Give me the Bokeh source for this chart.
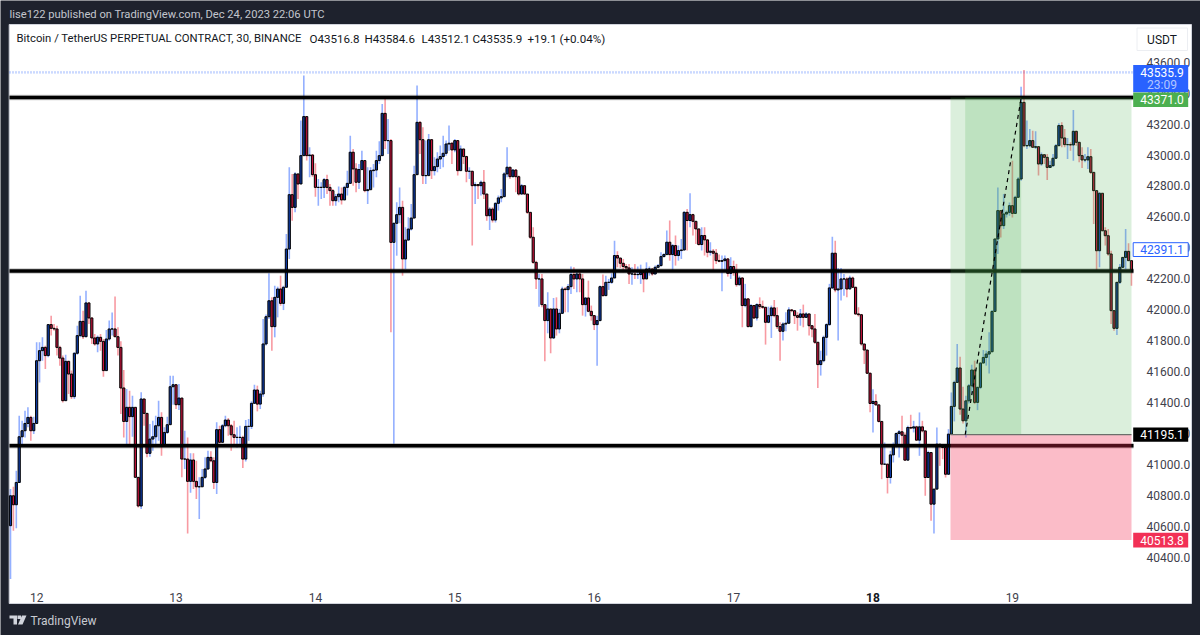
from bokeh.plotting import figure
from bokeh.models import ColumnDataSource, LinearAxis, FixedTicker, Label
from bokeh.embed import file_html
from bokeh.resources import INLINE

first_open = 40607
closes = [
40800,40742,40886,41181,41220,41267,41306,41220,41267,41672,41737,41758,41705,41905,41881,41877,41758,41689,41414,41668,
41586,41440,41720,41834,41926,41827,42045,41948,41819,41780,41823,41797,41608,41812,41877,41877,41827,41758,41496,41280,
41371,41311,41371,40919,40734,41425,41332,41074,41166,41181,41252,41306,41130,41209,41259,41504,41517,41388,41431,41037,
41037,40893,41031,40893,40858,40858,40919,40973,41048,41026,40886,41227,41145,41252,41289,41252,41194,41177,41177,41177,
41037,41248,41248,41397,41483,41392,41457,41780,41956,42059,41892,42081,42135,42042,42146,42393,42744,42662,42878,42813,
42996,43248,42996,43000,42873,42791,42791,42791,42841,42791,42770,42705,42731,42748,42710,42791,42817,43018,42910,42824,
42906,42964,42770,42776,42899,42903,42964,42996,43269,43093,43093,42436,42559,42615,42662,42329,42451,42522,42593,42873,
43211,43099,42867,42867,43099,42899,42925,42974,42990,43011,43071,43076,43033,43093,42899,43039,42990,42895,42895,42802,
42809,42802,42824,42748,42608,42651,42580,42688,42723,42731,42878,42921,42860,42903,42860,42748,42802,42748,42630,42469,
42307,42200,42200,42034,41931,42006,41819,42006,41877,41978,42135,42131,42150,42228,42200,42232,42200,42034,42077,41991,
41963,41905,41931,42150,42092,42178,42178,42206,42351,42335,42301,42280,42271,42232,42232,42228,42228,42243,42200,42264,
42264,42232,42275,42286,42344,42357,42437,42357,42415,42351,42383,42387,42630,42577,42615,42572,42523,42422,42480,42452,
42372,42379,42366,42318,42314,42318,42329,42236,42280,42243,42163,42206,42028,42071,41892,42028,41948,42034,42021,42017,
41920,41963,42013,41963,41892,41862,41909,41914,42000,41995,41963,41952,41974,41952,41974,41898,41877,41791,41647,41672,
41823,41905,42142,42366,42129,42135,42200,42200,42135,42206,42146,41974,41969,41780,41741,41591,41396,41409,41387,41280,
41004,41004,40918,41064,41129,41202,41213,41191,41030,41241,41237,41245,41159,41245,41219,40918,41079,40746,40843,41133,
41122,41112,40939,41198,41377,41532,41625,41360,41284,41413,41510,41612,41403,41500,41657,41693,41715,41730,41990,42458,
42641,42544,42619,42630,42673,42623,42727,42845,43340,43060,43060,43093,43050,43054,42942,43002,42985,42920,42931,42979,
43060,43190,43110,43067,43067,43065,43153,43082,42996,42968,42968,42989,42888,42770,42382,42753,42511,42479,42361,41995,
41881,42178,42275,42339,42378,42318,42253,
]
highs = [
40843,40858,40962,41317,41285,41349,41371,41317,41311,41791,41791,41823,41769,41909,41963,41909,41898,41769,41705,41711,
41672,41608,41726,41898,42092,41995,42124,42049,41952,41845,41834,41845,41812,41870,41931,41984,42086,41888,41797,41612,
41489,41478,41446,41371,40919,41468,41418,41332,41263,41285,41317,41414,41339,41242,41311,41575,41575,41522,41522,41431,
41220,41177,41074,41074,41026,40919,40973,41048,41091,41087,41048,41274,41252,41263,41317,41302,41263,41285,41242,41252,
41188,41289,41295,41410,41517,41511,41478,41941,41970,42236,42081,42156,42150,42221,42156,42490,42921,42878,42888,42878,
43222,43513,43244,43050,43007,42946,42845,42824,42852,42873,42813,42781,42748,42796,42791,42802,42899,43125,43039,42946,
42942,43028,42964,42921,42921,42942,43028,43089,43330,43362,43233,43104,42565,42695,42791,42705,42533,42598,42684,42931,
43448,43218,43179,43093,43136,43104,42985,43018,43061,43125,43093,43190,43082,43104,43093,43061,43039,42996,42921,42899,
42824,42813,42835,42903,42748,42662,42662,42695,42738,42781,42888,43050,42921,42910,42910,42867,42813,42802,42748,42630,
42533,42318,42232,42232,42017,42114,42006,42077,42081,42006,42150,42146,42168,42280,42275,42254,42254,42232,42081,42189,
42028,41963,41963,42157,42228,42221,42200,42236,42447,42379,42335,42329,42297,42297,42275,42297,42280,42292,42254,42307,
42280,42271,42286,42297,42372,42366,42512,42577,42426,42480,42415,42458,42637,42652,42753,42620,42566,42523,42534,42534,
42458,42437,42394,42394,42357,42351,42351,42335,42340,42318,42297,42221,42211,42168,42077,42038,42028,42043,42081,42060,
42017,42021,42028,42064,42017,41920,41920,41985,42017,42006,41995,41985,42006,42034,41985,41974,41898,41974,41791,41737,
41834,41914,42168,42473,42447,42271,42271,42232,42211,42221,42215,42150,42017,41974,41780,41741,41596,41488,41456,41387,
41280,41144,41008,41090,41144,41209,41224,41316,41209,41252,41323,41284,41252,41338,41284,41215,41090,41079,40843,41241,
41133,41133,41112,41230,41467,41543,41780,41698,41504,41446,41521,41646,41672,41504,41661,41741,41737,41855,41999,42458,
42791,42641,42748,42641,42694,42963,42737,42856,43441,43549,43222,43168,43157,43153,43054,43017,43002,43007,42963,43007,
43071,43205,43211,43168,43110,43082,43291,43157,43082,43050,43007,43050,43039,42888,42770,42759,42753,42533,42522,42382,
41995,42178,42296,42339,42522,42430,42318,
]
lows = [
40262,40574,40591,41091,41134,41177,41242,41156,41199,41263,41532,41672,41618,41694,41834,41866,41705,41640,41403,41414,
41457,41425,41425,41711,41823,41812,41823,41909,41780,41769,41726,41737,41569,41608,41801,41834,41823,41705,41328,41177,
41134,41134,41181,40919,40725,40714,41252,41048,41052,41091,41123,41156,41059,41123,41199,41259,41388,41360,41354,40919,
40973,40557,40820,40843,40779,40650,40858,40908,40966,41016,40843,40811,41138,41145,41242,41188,41091,41123,41112,41134,
40979,41022,41156,41231,41392,41345,41360,41440,41770,41941,41736,41823,41952,42027,41999,42146,42329,42576,42630,42716,
42813,42996,42964,42856,42860,42731,42673,42716,42723,42748,42673,42673,42673,42695,42680,42710,42738,42813,42802,42759,
42781,42910,42759,42684,42781,42791,42856,42942,42996,43039,43007,41855,41136,42350,42559,42221,42264,42447,42512,42598,
42873,43007,42813,42813,42899,42845,42867,42888,42910,42921,42996,43028,42942,43018,42867,42899,42942,42824,42845,42415,
42684,42716,42738,42716,42576,42516,42565,42565,42641,42695,42731,42856,42845,42856,42759,42738,42744,42744,42619,42458,
42297,42135,42021,42017,41668,41849,41720,41812,41834,41849,41974,41985,41985,42103,42135,42114,42114,41963,41957,41985,
41931,41870,41640,41926,42086,42092,42129,42168,42206,42275,42271,42243,42254,42168,42163,42200,42200,42168,42114,42206,
42221,42221,42228,42275,42280,42340,42357,42318,42258,42286,42318,42329,42383,42383,42534,42480,42426,42415,42383,42351,
42340,42351,42258,42297,42307,42120,42254,42215,42200,42221,42150,42157,41888,42017,41888,41888,41941,41931,42006,42006,
41776,41914,41819,41952,41877,41672,41802,41862,41909,41985,41909,41866,41898,41888,41948,41834,41823,41780,41496,41576,
41662,41705,41898,42135,42114,41802,42060,42092,42081,42135,42142,41967,41957,41769,41651,41586,41340,41209,41381,41273,
40907,41000,40815,40879,41015,41112,41047,41112,41026,41030,41230,41209,41155,41058,41209,40800,40914,40638,40556,40843,
40993,41036,40918,40935,41198,41280,41532,41323,41267,41177,41396,41452,41392,41353,41489,41655,41640,41590,41726,41990,
42361,42468,42522,42597,42608,42597,42619,42727,42834,43050,43039,43050,43045,43039,42867,42931,42942,42839,42920,42925,
42974,43060,43050,43050,42974,43028,42963,43060,42953,42916,42953,42910,42877,42554,42253,42275,42507,42415,42350,41909,
41866,41838,42167,42275,42264,42318,42156,
]

day_ticks = [9, 57, 105, 153, 201, 249, 297, 345]
day_labels = ["12", "13", "14", "15", "16", "17", "18", "19"]
price_ticks = list(range(40400, 43601, 200))
level_prices = [43371, 42251, 41123]
last_price = 43535.9
position_entry = 41195.1
position_target = 43371.0
position_stop = 40513.8
other_price = 42391.1

# ---- layout helpers: page pixel -> chart scales
PX_PER_BAR = 2.904
def X(px): return (px - 10) / PX_PER_BAR
def Y(py): return 41000 + (464.3 - py) * 6.456

DARK = "#1e222d"
opens = [first_open] + closes[:-1]
up = [c >= o for c, o in zip(closes, opens)]
src = ColumnDataSource(dict(
    x=list(range(len(closes))), o=opens, h=highs, l=lows, c=closes,
    wick=["#2962ff" if u else "#f23645" for u in up],
    fill=["#0c3aa6" if u else "#c3123a" for u in up],
))

# the frame covers the whole page; the white chart pane is a block inside it
p = figure(width=1200, height=635, output_backend="svg", toolbar_location=None,
           x_range=(X(0), X(1200)), y_range=(Y(635), Y(0)),
           x_axis_location=None, y_axis_location=None,
           min_border=0, background_fill_color=DARK, border_fill_color=DARK,
           outline_line_color=None)
p.grid.visible = False

p.quad(left=[X(8.7)], right=[X(1191)], top=[Y(24)], bottom=[Y(603)],
       fill_color="white", line_color="#d1d4dc", line_width=1)

# last price dotted
for py_shift, alpha in ((0, 0.55), (1.4, 0.3)):
    p.line([X(9), X(1133)], [last_price - py_shift * 6.456] * 2, line_color="#2962ff",
           line_alpha=alpha, line_width=1.3, line_dash=[1, 2])

# candles
p.segment("x", "h", "x", "l", source=src, line_color="wick", line_alpha=0.5, line_width=1.6)
p.vbar("x", 0.75, "o", "c", source=src, fill_color="fill", line_color="black", line_width=1.0)

# horizontal levels
for v in level_prices:
    p.line([X(9), X(1133)], [v, v], line_color="#000000", line_alpha=0.22, line_width=5.5)
    p.line([X(9), X(1133)], [v, v], line_color="#000000", line_width=3.4)

# position tool
zl, zr = X(950), X(1131)
p.quad(left=[zl], right=[zr], bottom=[position_entry], top=[position_target],
       fill_color="#4caf50", fill_alpha=0.2, line_color=None)
p.quad(left=[X(964.7)], right=[X(1020.7)], bottom=[position_entry], top=[position_target],
       fill_color="#4caf50", fill_alpha=0.2, line_color=None)
p.quad(left=[zl], right=[zr], bottom=[position_stop], top=[position_entry],
       fill_color="#f23055", fill_alpha=0.32, line_color=None)
p.line([zl, zr], [position_entry, position_entry], line_color="#6b6f6b", line_width=1.4)
p.line([X(964.7), X(1020.7)], [position_entry, position_target], line_color="black",
       line_width=1.2, line_dash=[4, 4])

# axes drawn inside the white pane
FONT = "Roboto"
ax = LinearAxis(ticker=FixedTicker(ticks=price_ticks), fixed_location=X(1133),
                major_label_overrides={t: f"{t:.1f}" for t in price_ticks},
                axis_line_color=None, major_tick_line_color=None, minor_tick_line_color=None,
                major_label_text_font=FONT, major_label_text_font_size="12px",
                major_label_text_color="#3f424c", major_label_standoff=7)
p.add_layout(ax, "right")

plain = [t for t, s in zip(day_ticks, day_labels) if s != "18"]
bold = [t for t, s in zip(day_ticks, day_labels) if s == "18"]
for ticks, weight in ((plain, "normal"), (bold, "bold")):
    xa = LinearAxis(ticker=FixedTicker(ticks=ticks), fixed_location=Y(585),
                    major_label_overrides={t: s for t, s in zip(day_ticks, day_labels)},
                    axis_line_color=None, major_tick_line_color=None, minor_tick_line_color=None,
                    major_label_text_font=FONT, major_label_text_font_size="12px",
                    major_label_text_font_style=weight,
                    major_label_text_color="#131722" if weight == "bold" else "#3f424c",
                    major_label_standoff=1)
    p.add_layout(xa, "below")

# price tags
def tag(cy_top, cy_bot, fill, line=None):
    p.quad(left=[X(1132.7)], right=[X(1187.7)], top=[Y(cy_top)], bottom=[Y(cy_bot)],
           fill_color=fill, line_color=line, line_width=1, level="annotation")

def tag_text(txt, py, color):
    p.add_layout(Label(x=X(1161.5), y=Y(py), text=txt, text_color=color, text_font=FONT,
                       text_font_size="12px", text_align="center", text_baseline="middle"))

tag(64.4, 91.8, "#2962ff")
tag_text(f"{last_price:.1f}", 72, "white")
tag_text("23:09", 84, "#b4c6ff")
tag(92, 106.6, "#4caf50")
tag_text(f"{position_target:.1f}", 99.3, "white")
tag(242.2, 256, "white", "#2962ff")
tag_text(f"{other_price:.1f}", 249, "#2962ff")
tag(427, 441.2, "#000000")
tag_text(f"{position_entry:.1f}", 434, "white")
tag(532.3, 547, "#f23055")
tag_text(f"{position_stop:.1f}", 539.6, "white")

# USDT box
p.quad(left=[X(1136.5)], right=[X(1187)], top=[Y(27.5)], bottom=[Y(50)], fill_color="white",
       line_color="#eceef2", line_width=1, level="annotation")
tag_text("USDT", 39, "#131722")

# legend texts, placed piece by piece
def text(txt, px, py, color, size, font=FONT):
    p.add_layout(Label(x=X(px), y=Y(py), text=txt, text_color=color, text_font=font,
                       text_font_size=size, text_baseline="middle"))

text("Bitcoin / TetherUS PERPETUAL CONTRACT, 30, BINANCE", 16, 38, "#131722", "11.3px")
for txt, px in (("O43516.8", 309), ("H43584.6", 364), ("L43512.1", 421),
                ("C43535.9", 472), ("+19.1 (+0.04%)", 527)):
    text(txt, px, 38, "#131722", "11.6px")

text("lise122 published on TradingView.com, Dec 24, 2023 22:06 UTC", 9, 14, "#c3c6ce", "11.2px")
text("TradingView", 30, 620, "#c8cbd2", "12px")

# logo
LOGO = "#d1d4dc"
logo_parts = ([(9, 615), (16.5, 615), (16.5, 624), (13, 624), (13, 618), (9, 618)],
              [(17, 615), (20.5, 615), (20.5, 618.5), (17, 618.5)],
              [(21.5, 615), (26, 615), (22, 624), (17.5, 624)])
p.patches([[X(a) for a, b in pts] for pts in logo_parts],
          [[Y(b) for a, b in pts] for pts in logo_parts],
          fill_color=LOGO, line_color=None)

open("out.html", "w").write(file_html(p, INLINE))
